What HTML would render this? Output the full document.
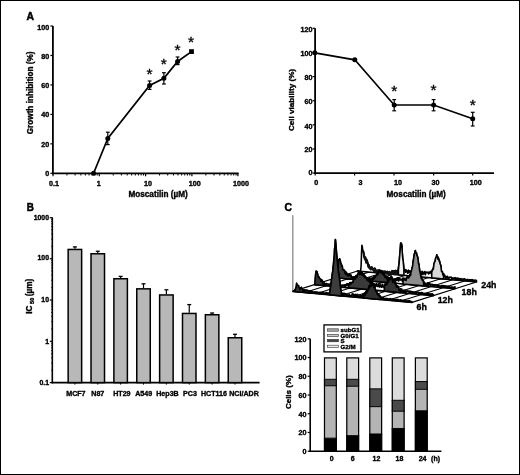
<!DOCTYPE html>
<html><head><meta charset="utf-8"><style>
html,body{margin:0;padding:0;background:#fff;}
svg{display:block;}
</style></head><body>
<svg width="520" height="475" viewBox="0 0 520 475" font-family="Liberation Sans, Arial, sans-serif" font-weight="bold">
<rect x="0" y="0" width="520" height="475" fill="#fff"/>
<text transform="translate(26.6,20.0) scale(1.0,1)" font-size="10.4" stroke="#000" stroke-width="0.5">A</text>
<line x1="52.90" y1="26.00" x2="52.90" y2="174.20" stroke="#000" stroke-width="1.8"/>
<line x1="52.00" y1="173.30" x2="238.60" y2="173.30" stroke="#000" stroke-width="1.8"/>
<line x1="50.40" y1="173.30" x2="52.90" y2="173.30" stroke="#000" stroke-width="1.2"/>
<text x="49.30" y="176.00" font-size="7.2" text-anchor="end" stroke="#000" stroke-width="0.35" >0</text>
<line x1="50.40" y1="143.84" x2="52.90" y2="143.84" stroke="#000" stroke-width="1.2"/>
<text x="49.30" y="146.74" font-size="7.2" text-anchor="end" stroke="#000" stroke-width="0.35" >20</text>
<line x1="50.40" y1="114.38" x2="52.90" y2="114.38" stroke="#000" stroke-width="1.2"/>
<text x="49.30" y="117.48" font-size="7.2" text-anchor="end" stroke="#000" stroke-width="0.35" >40</text>
<line x1="50.40" y1="84.92" x2="52.90" y2="84.92" stroke="#000" stroke-width="1.2"/>
<text x="49.30" y="88.22" font-size="7.2" text-anchor="end" stroke="#000" stroke-width="0.35" >60</text>
<line x1="50.40" y1="55.46" x2="52.90" y2="55.46" stroke="#000" stroke-width="1.2"/>
<text x="49.30" y="58.96" font-size="7.2" text-anchor="end" stroke="#000" stroke-width="0.35" >80</text>
<line x1="50.40" y1="26.00" x2="52.90" y2="26.00" stroke="#000" stroke-width="1.2"/>
<text x="49.30" y="29.70" font-size="7.2" text-anchor="end" stroke="#000" stroke-width="0.35" >100</text>
<line x1="53.00" y1="173.30" x2="53.00" y2="176.30" stroke="#000" stroke-width="1.2"/>
<line x1="66.94" y1="173.30" x2="66.94" y2="175.50" stroke="#000" stroke-width="1.0"/>
<line x1="75.09" y1="173.30" x2="75.09" y2="175.50" stroke="#000" stroke-width="1.0"/>
<line x1="80.88" y1="173.30" x2="80.88" y2="175.50" stroke="#000" stroke-width="1.0"/>
<line x1="85.36" y1="173.30" x2="85.36" y2="175.50" stroke="#000" stroke-width="1.0"/>
<line x1="89.03" y1="173.30" x2="89.03" y2="175.50" stroke="#000" stroke-width="1.0"/>
<line x1="92.13" y1="173.30" x2="92.13" y2="175.50" stroke="#000" stroke-width="1.0"/>
<line x1="94.81" y1="173.30" x2="94.81" y2="175.50" stroke="#000" stroke-width="1.0"/>
<line x1="97.18" y1="173.30" x2="97.18" y2="175.50" stroke="#000" stroke-width="1.0"/>
<line x1="99.30" y1="173.30" x2="99.30" y2="176.30" stroke="#000" stroke-width="1.2"/>
<line x1="113.24" y1="173.30" x2="113.24" y2="175.50" stroke="#000" stroke-width="1.0"/>
<line x1="121.39" y1="173.30" x2="121.39" y2="175.50" stroke="#000" stroke-width="1.0"/>
<line x1="127.18" y1="173.30" x2="127.18" y2="175.50" stroke="#000" stroke-width="1.0"/>
<line x1="131.66" y1="173.30" x2="131.66" y2="175.50" stroke="#000" stroke-width="1.0"/>
<line x1="135.33" y1="173.30" x2="135.33" y2="175.50" stroke="#000" stroke-width="1.0"/>
<line x1="138.43" y1="173.30" x2="138.43" y2="175.50" stroke="#000" stroke-width="1.0"/>
<line x1="141.11" y1="173.30" x2="141.11" y2="175.50" stroke="#000" stroke-width="1.0"/>
<line x1="143.48" y1="173.30" x2="143.48" y2="175.50" stroke="#000" stroke-width="1.0"/>
<line x1="145.60" y1="173.30" x2="145.60" y2="176.30" stroke="#000" stroke-width="1.2"/>
<line x1="159.54" y1="173.30" x2="159.54" y2="175.50" stroke="#000" stroke-width="1.0"/>
<line x1="167.69" y1="173.30" x2="167.69" y2="175.50" stroke="#000" stroke-width="1.0"/>
<line x1="173.48" y1="173.30" x2="173.48" y2="175.50" stroke="#000" stroke-width="1.0"/>
<line x1="177.96" y1="173.30" x2="177.96" y2="175.50" stroke="#000" stroke-width="1.0"/>
<line x1="181.63" y1="173.30" x2="181.63" y2="175.50" stroke="#000" stroke-width="1.0"/>
<line x1="184.73" y1="173.30" x2="184.73" y2="175.50" stroke="#000" stroke-width="1.0"/>
<line x1="187.41" y1="173.30" x2="187.41" y2="175.50" stroke="#000" stroke-width="1.0"/>
<line x1="189.78" y1="173.30" x2="189.78" y2="175.50" stroke="#000" stroke-width="1.0"/>
<line x1="191.90" y1="173.30" x2="191.90" y2="176.30" stroke="#000" stroke-width="1.2"/>
<line x1="205.84" y1="173.30" x2="205.84" y2="175.50" stroke="#000" stroke-width="1.0"/>
<line x1="213.99" y1="173.30" x2="213.99" y2="175.50" stroke="#000" stroke-width="1.0"/>
<line x1="219.78" y1="173.30" x2="219.78" y2="175.50" stroke="#000" stroke-width="1.0"/>
<line x1="224.26" y1="173.30" x2="224.26" y2="175.50" stroke="#000" stroke-width="1.0"/>
<line x1="227.93" y1="173.30" x2="227.93" y2="175.50" stroke="#000" stroke-width="1.0"/>
<line x1="231.03" y1="173.30" x2="231.03" y2="175.50" stroke="#000" stroke-width="1.0"/>
<line x1="233.71" y1="173.30" x2="233.71" y2="175.50" stroke="#000" stroke-width="1.0"/>
<line x1="236.08" y1="173.30" x2="236.08" y2="175.50" stroke="#000" stroke-width="1.0"/>
<line x1="237.90" y1="173.30" x2="237.90" y2="176.30" stroke="#000" stroke-width="1.2"/>
<text x="54.00" y="185.60" font-size="7.2" text-anchor="middle" stroke="#000" stroke-width="0.35" >0.1</text>
<text x="98.80" y="185.60" font-size="7.2" text-anchor="middle" stroke="#000" stroke-width="0.35" >1</text>
<text x="148.00" y="185.60" font-size="7.2" text-anchor="middle" stroke="#000" stroke-width="0.35" >10</text>
<text x="194.70" y="185.60" font-size="7.2" text-anchor="middle" stroke="#000" stroke-width="0.35" >100</text>
<text x="241.00" y="185.60" font-size="7.2" text-anchor="middle" stroke="#000" stroke-width="0.35" >1000</text>
<text x="158.10" y="197.00" font-size="8.2" text-anchor="middle" stroke="#000" stroke-width="0.35" >Moscatilin (µM)</text>
<text x="0.00" y="0.00" font-size="8.2" text-anchor="middle" stroke="#000" stroke-width="0.35" transform="translate(32.6,92.9) rotate(-90)">Growth inhibition (%)</text>
<polyline points="93.6,173.2 107.8,138.5 149.6,85.4 163.9,78.2 177.6,61.5 191.5,51.6" fill="none" stroke="#000" stroke-width="1.7"/>
<circle cx="93.6" cy="173.2" r="2.5" fill="#000"/>
<circle cx="107.8" cy="138.5" r="2.5" fill="#000"/>
<line x1="107.80" y1="132.20" x2="107.80" y2="144.60" stroke="#000" stroke-width="1.2"/>
<line x1="105.90" y1="132.20" x2="109.70" y2="132.20" stroke="#000" stroke-width="1.2"/>
<line x1="105.90" y1="144.60" x2="109.70" y2="144.60" stroke="#000" stroke-width="1.2"/>
<circle cx="149.6" cy="85.4" r="2.5" fill="#000"/>
<line x1="149.60" y1="81.00" x2="149.60" y2="89.40" stroke="#000" stroke-width="1.2"/>
<line x1="147.70" y1="81.00" x2="151.50" y2="81.00" stroke="#000" stroke-width="1.2"/>
<line x1="147.70" y1="89.40" x2="151.50" y2="89.40" stroke="#000" stroke-width="1.2"/>
<circle cx="163.9" cy="78.2" r="2.5" fill="#000"/>
<line x1="163.90" y1="72.70" x2="163.90" y2="84.00" stroke="#000" stroke-width="1.2"/>
<line x1="162.00" y1="72.70" x2="165.80" y2="72.70" stroke="#000" stroke-width="1.2"/>
<line x1="162.00" y1="84.00" x2="165.80" y2="84.00" stroke="#000" stroke-width="1.2"/>
<circle cx="177.6" cy="61.5" r="2.5" fill="#000"/>
<line x1="177.60" y1="57.00" x2="177.60" y2="64.60" stroke="#000" stroke-width="1.2"/>
<line x1="175.70" y1="57.00" x2="179.50" y2="57.00" stroke="#000" stroke-width="1.2"/>
<line x1="175.70" y1="64.60" x2="179.50" y2="64.60" stroke="#000" stroke-width="1.2"/>
<rect x="189.1" y="49.2" width="4.8" height="4.8" fill="#000"/>
<text x="149.50" y="78.50" font-size="15.5" font-weight="normal" text-anchor="middle" stroke="#000" stroke-width="0.35">*</text>
<text x="163.70" y="68.70" font-size="15.5" font-weight="normal" text-anchor="middle" stroke="#000" stroke-width="0.35">*</text>
<text x="177.50" y="54.50" font-size="15.5" font-weight="normal" text-anchor="middle" stroke="#000" stroke-width="0.35">*</text>
<text x="191.10" y="46.90" font-size="15.5" font-weight="normal" text-anchor="middle" stroke="#000" stroke-width="0.35">*</text>
<line x1="315.10" y1="28.30" x2="315.10" y2="174.00" stroke="#000" stroke-width="1.8"/>
<line x1="314.20" y1="173.10" x2="494.00" y2="173.10" stroke="#000" stroke-width="1.8"/>
<line x1="312.60" y1="173.10" x2="315.10" y2="173.10" stroke="#000" stroke-width="1.2"/>
<text x="312.60" y="175.20" font-size="7.2" text-anchor="end" stroke="#000" stroke-width="0.35" >0</text>
<line x1="312.60" y1="148.97" x2="315.10" y2="148.97" stroke="#000" stroke-width="1.2"/>
<text x="312.60" y="152.00" font-size="7.2" text-anchor="end" stroke="#000" stroke-width="0.35" >20</text>
<line x1="312.60" y1="124.83" x2="315.10" y2="124.83" stroke="#000" stroke-width="1.2"/>
<text x="312.60" y="128.50" font-size="7.2" text-anchor="end" stroke="#000" stroke-width="0.35" >40</text>
<line x1="312.60" y1="100.70" x2="315.10" y2="100.70" stroke="#000" stroke-width="1.2"/>
<text x="312.60" y="104.20" font-size="7.2" text-anchor="end" stroke="#000" stroke-width="0.35" >60</text>
<line x1="312.60" y1="76.57" x2="315.10" y2="76.57" stroke="#000" stroke-width="1.2"/>
<text x="312.60" y="79.80" font-size="7.2" text-anchor="end" stroke="#000" stroke-width="0.35" >80</text>
<line x1="312.60" y1="52.43" x2="315.10" y2="52.43" stroke="#000" stroke-width="1.2"/>
<text x="312.60" y="55.60" font-size="7.2" text-anchor="end" stroke="#000" stroke-width="0.35" >100</text>
<line x1="312.60" y1="28.30" x2="315.10" y2="28.30" stroke="#000" stroke-width="1.2"/>
<text x="312.60" y="31.70" font-size="7.2" text-anchor="end" stroke="#000" stroke-width="0.35" >120</text>
<line x1="315.20" y1="173.10" x2="315.20" y2="175.60" stroke="#000" stroke-width="1.2"/>
<line x1="354.60" y1="173.10" x2="354.60" y2="175.60" stroke="#000" stroke-width="1.2"/>
<line x1="394.00" y1="173.10" x2="394.00" y2="175.60" stroke="#000" stroke-width="1.2"/>
<line x1="433.60" y1="173.10" x2="433.60" y2="175.60" stroke="#000" stroke-width="1.2"/>
<line x1="472.70" y1="173.10" x2="472.70" y2="175.60" stroke="#000" stroke-width="1.2"/>
<text x="316.20" y="185.20" font-size="7.2" text-anchor="middle" stroke="#000" stroke-width="0.35" >0</text>
<text x="360.40" y="185.20" font-size="7.2" text-anchor="middle" stroke="#000" stroke-width="0.35" >3</text>
<text x="397.90" y="185.20" font-size="7.2" text-anchor="middle" stroke="#000" stroke-width="0.35" >10</text>
<text x="435.50" y="185.20" font-size="7.2" text-anchor="middle" stroke="#000" stroke-width="0.35" >30</text>
<text x="475.70" y="185.20" font-size="7.2" text-anchor="middle" stroke="#000" stroke-width="0.35" >100</text>
<text x="416.20" y="197.00" font-size="8.2" text-anchor="middle" stroke="#000" stroke-width="0.35" >Moscatilin (µM)</text>
<text x="0.00" y="0.00" font-size="8.1" text-anchor="middle" stroke="#000" stroke-width="0.35" transform="translate(294.0,100) rotate(-90)">Cell viability (%)</text>
<polyline points="314.8,52.8 354.8,59.8 394.2,105 433.6,105 472.7,118.7" fill="none" stroke="#000" stroke-width="1.7"/>
<circle cx="314.8" cy="52.8" r="2.5" fill="#000"/>
<circle cx="354.8" cy="59.8" r="2.5" fill="#000"/>
<circle cx="394.2" cy="105" r="2.5" fill="#000"/>
<line x1="394.20" y1="99.60" x2="394.20" y2="110.80" stroke="#000" stroke-width="1.2"/>
<line x1="392.30" y1="99.60" x2="396.10" y2="99.60" stroke="#000" stroke-width="1.2"/>
<line x1="392.30" y1="110.80" x2="396.10" y2="110.80" stroke="#000" stroke-width="1.2"/>
<circle cx="433.6" cy="105" r="2.5" fill="#000"/>
<line x1="433.60" y1="99.60" x2="433.60" y2="110.80" stroke="#000" stroke-width="1.2"/>
<line x1="431.70" y1="99.60" x2="435.50" y2="99.60" stroke="#000" stroke-width="1.2"/>
<line x1="431.70" y1="110.80" x2="435.50" y2="110.80" stroke="#000" stroke-width="1.2"/>
<circle cx="472.7" cy="118.7" r="2.5" fill="#000"/>
<line x1="472.70" y1="112.30" x2="472.70" y2="126.00" stroke="#000" stroke-width="1.2"/>
<line x1="470.80" y1="112.30" x2="474.60" y2="112.30" stroke="#000" stroke-width="1.2"/>
<line x1="470.80" y1="126.00" x2="474.60" y2="126.00" stroke="#000" stroke-width="1.2"/>
<text x="394.20" y="96.40" font-size="15.5" font-weight="normal" text-anchor="middle" stroke="#000" stroke-width="0.35">*</text>
<text x="433.50" y="95.30" font-size="15.5" font-weight="normal" text-anchor="middle" stroke="#000" stroke-width="0.35">*</text>
<text x="472.70" y="109.50" font-size="15.5" font-weight="normal" text-anchor="middle" stroke="#000" stroke-width="0.35">*</text>
<text transform="translate(26.8,210.9) scale(0.95,1)" font-size="10.4" stroke="#000" stroke-width="0.5">B</text>
<line x1="52.30" y1="217.40" x2="52.30" y2="383.35" stroke="#000" stroke-width="1.6"/>
<line x1="51.55" y1="382.60" x2="259.60" y2="382.60" stroke="#000" stroke-width="1.6"/>
<line x1="49.80" y1="382.60" x2="52.30" y2="382.60" stroke="#000" stroke-width="1.2"/>
<line x1="51.00" y1="370.17" x2="52.30" y2="370.17" stroke="#000" stroke-width="0.7"/>
<line x1="51.00" y1="362.89" x2="52.30" y2="362.89" stroke="#000" stroke-width="0.7"/>
<line x1="51.00" y1="357.73" x2="52.30" y2="357.73" stroke="#000" stroke-width="0.7"/>
<line x1="51.00" y1="353.73" x2="52.30" y2="353.73" stroke="#000" stroke-width="0.7"/>
<line x1="51.00" y1="350.46" x2="52.30" y2="350.46" stroke="#000" stroke-width="0.7"/>
<line x1="51.00" y1="347.70" x2="52.30" y2="347.70" stroke="#000" stroke-width="0.7"/>
<line x1="51.00" y1="345.30" x2="52.30" y2="345.30" stroke="#000" stroke-width="0.7"/>
<line x1="51.00" y1="343.19" x2="52.30" y2="343.19" stroke="#000" stroke-width="0.7"/>
<line x1="49.80" y1="341.30" x2="52.30" y2="341.30" stroke="#000" stroke-width="1.2"/>
<line x1="51.00" y1="328.87" x2="52.30" y2="328.87" stroke="#000" stroke-width="0.7"/>
<line x1="51.00" y1="321.59" x2="52.30" y2="321.59" stroke="#000" stroke-width="0.7"/>
<line x1="51.00" y1="316.43" x2="52.30" y2="316.43" stroke="#000" stroke-width="0.7"/>
<line x1="51.00" y1="312.43" x2="52.30" y2="312.43" stroke="#000" stroke-width="0.7"/>
<line x1="51.00" y1="309.16" x2="52.30" y2="309.16" stroke="#000" stroke-width="0.7"/>
<line x1="51.00" y1="306.40" x2="52.30" y2="306.40" stroke="#000" stroke-width="0.7"/>
<line x1="51.00" y1="304.00" x2="52.30" y2="304.00" stroke="#000" stroke-width="0.7"/>
<line x1="51.00" y1="301.89" x2="52.30" y2="301.89" stroke="#000" stroke-width="0.7"/>
<line x1="49.80" y1="300.00" x2="52.30" y2="300.00" stroke="#000" stroke-width="1.2"/>
<line x1="51.00" y1="287.57" x2="52.30" y2="287.57" stroke="#000" stroke-width="0.7"/>
<line x1="51.00" y1="280.29" x2="52.30" y2="280.29" stroke="#000" stroke-width="0.7"/>
<line x1="51.00" y1="275.13" x2="52.30" y2="275.13" stroke="#000" stroke-width="0.7"/>
<line x1="51.00" y1="271.13" x2="52.30" y2="271.13" stroke="#000" stroke-width="0.7"/>
<line x1="51.00" y1="267.86" x2="52.30" y2="267.86" stroke="#000" stroke-width="0.7"/>
<line x1="51.00" y1="265.10" x2="52.30" y2="265.10" stroke="#000" stroke-width="0.7"/>
<line x1="51.00" y1="262.70" x2="52.30" y2="262.70" stroke="#000" stroke-width="0.7"/>
<line x1="51.00" y1="260.59" x2="52.30" y2="260.59" stroke="#000" stroke-width="0.7"/>
<line x1="49.80" y1="258.70" x2="52.30" y2="258.70" stroke="#000" stroke-width="1.2"/>
<line x1="51.00" y1="246.27" x2="52.30" y2="246.27" stroke="#000" stroke-width="0.7"/>
<line x1="51.00" y1="238.99" x2="52.30" y2="238.99" stroke="#000" stroke-width="0.7"/>
<line x1="51.00" y1="233.83" x2="52.30" y2="233.83" stroke="#000" stroke-width="0.7"/>
<line x1="51.00" y1="229.83" x2="52.30" y2="229.83" stroke="#000" stroke-width="0.7"/>
<line x1="51.00" y1="226.56" x2="52.30" y2="226.56" stroke="#000" stroke-width="0.7"/>
<line x1="51.00" y1="223.80" x2="52.30" y2="223.80" stroke="#000" stroke-width="0.7"/>
<line x1="51.00" y1="221.40" x2="52.30" y2="221.40" stroke="#000" stroke-width="0.7"/>
<line x1="51.00" y1="219.29" x2="52.30" y2="219.29" stroke="#000" stroke-width="0.7"/>
<line x1="49.80" y1="217.70" x2="52.30" y2="217.70" stroke="#000" stroke-width="1.2"/>
<text x="49.00" y="385.10" font-size="6.9" text-anchor="end" stroke="#000" stroke-width="0.35" >0.1</text>
<text x="49.00" y="343.70" font-size="6.9" text-anchor="end" stroke="#000" stroke-width="0.35" >1</text>
<text x="49.00" y="302.00" font-size="6.9" text-anchor="end" stroke="#000" stroke-width="0.35" >10</text>
<text x="49.00" y="260.00" font-size="6.9" text-anchor="end" stroke="#000" stroke-width="0.35" >100</text>
<text x="49.00" y="219.90" font-size="6.9" text-anchor="end" stroke="#000" stroke-width="0.35" >1000</text>
<line x1="74.90" y1="246.90" x2="74.90" y2="248.70" stroke="#000" stroke-width="1.2"/>
<line x1="72.90" y1="246.90" x2="76.90" y2="246.90" stroke="#000" stroke-width="1.3"/>
<rect x="68.15" y="249.45" width="13.50" height="133.15" fill="#b8b8b8" stroke="#000" stroke-width="1.5"/>
<line x1="74.90" y1="382.60" x2="74.90" y2="384.60" stroke="#000" stroke-width="1.0"/>
<line x1="97.77" y1="251.25" x2="97.77" y2="253.00" stroke="#000" stroke-width="1.2"/>
<line x1="95.77" y1="251.25" x2="99.77" y2="251.25" stroke="#000" stroke-width="1.3"/>
<rect x="91.02" y="253.75" width="13.50" height="128.85" fill="#b8b8b8" stroke="#000" stroke-width="1.5"/>
<line x1="97.77" y1="382.60" x2="97.77" y2="384.60" stroke="#000" stroke-width="1.0"/>
<line x1="120.64" y1="276.40" x2="120.64" y2="278.00" stroke="#000" stroke-width="1.2"/>
<line x1="118.64" y1="276.40" x2="122.64" y2="276.40" stroke="#000" stroke-width="1.3"/>
<rect x="113.89" y="278.75" width="13.50" height="103.85" fill="#b8b8b8" stroke="#000" stroke-width="1.5"/>
<line x1="120.64" y1="382.60" x2="120.64" y2="384.60" stroke="#000" stroke-width="1.0"/>
<line x1="143.51" y1="283.80" x2="143.51" y2="288.10" stroke="#000" stroke-width="1.2"/>
<line x1="141.51" y1="283.80" x2="145.51" y2="283.80" stroke="#000" stroke-width="1.3"/>
<rect x="136.76" y="288.85" width="13.50" height="93.75" fill="#b8b8b8" stroke="#000" stroke-width="1.5"/>
<line x1="143.51" y1="382.60" x2="143.51" y2="384.60" stroke="#000" stroke-width="1.0"/>
<line x1="166.38" y1="289.80" x2="166.38" y2="294.20" stroke="#000" stroke-width="1.2"/>
<line x1="164.38" y1="289.80" x2="168.38" y2="289.80" stroke="#000" stroke-width="1.3"/>
<rect x="159.63" y="294.95" width="13.50" height="87.65" fill="#b8b8b8" stroke="#000" stroke-width="1.5"/>
<line x1="166.38" y1="382.60" x2="166.38" y2="384.60" stroke="#000" stroke-width="1.0"/>
<line x1="189.25" y1="304.60" x2="189.25" y2="312.70" stroke="#000" stroke-width="1.2"/>
<line x1="187.25" y1="304.60" x2="191.25" y2="304.60" stroke="#000" stroke-width="1.3"/>
<rect x="182.50" y="313.45" width="13.50" height="69.15" fill="#b8b8b8" stroke="#000" stroke-width="1.5"/>
<line x1="189.25" y1="382.60" x2="189.25" y2="384.60" stroke="#000" stroke-width="1.0"/>
<line x1="212.12" y1="313.00" x2="212.12" y2="314.00" stroke="#000" stroke-width="1.2"/>
<line x1="210.12" y1="313.00" x2="214.12" y2="313.00" stroke="#000" stroke-width="1.3"/>
<rect x="205.37" y="314.75" width="13.50" height="67.85" fill="#b8b8b8" stroke="#000" stroke-width="1.5"/>
<line x1="212.12" y1="382.60" x2="212.12" y2="384.60" stroke="#000" stroke-width="1.0"/>
<line x1="234.99" y1="334.30" x2="234.99" y2="337.00" stroke="#000" stroke-width="1.2"/>
<line x1="232.99" y1="334.30" x2="236.99" y2="334.30" stroke="#000" stroke-width="1.3"/>
<rect x="228.24" y="337.75" width="13.50" height="44.85" fill="#b8b8b8" stroke="#000" stroke-width="1.5"/>
<line x1="234.99" y1="382.60" x2="234.99" y2="384.60" stroke="#000" stroke-width="1.0"/>
<text x="75.90" y="396.00" font-size="7.1" text-anchor="middle" stroke="#000" stroke-width="0.35" >MCF7</text>
<text x="97.80" y="396.00" font-size="7.1" text-anchor="middle" stroke="#000" stroke-width="0.35" >N87</text>
<text x="121.90" y="396.00" font-size="7.1" text-anchor="middle" stroke="#000" stroke-width="0.35" >HT29</text>
<text x="143.70" y="396.00" font-size="7.1" text-anchor="middle" stroke="#000" stroke-width="0.35" >A549</text>
<text x="167.50" y="396.00" font-size="7.1" text-anchor="middle" stroke="#000" stroke-width="0.35" >Hep3B</text>
<text x="190.00" y="396.00" font-size="7.1" text-anchor="middle" stroke="#000" stroke-width="0.35" >PC3</text>
<text x="214.00" y="396.00" font-size="7.1" text-anchor="middle" stroke="#000" stroke-width="0.35" >HCT116</text>
<text x="244.00" y="396.00" font-size="7.1" text-anchor="middle" stroke="#000" stroke-width="0.35" >NCI/ADR</text>
<text transform="translate(31.8,296.2) rotate(-90)" font-size="8.2" text-anchor="middle" stroke="#000" stroke-width="0.35">IC<tspan font-size="5.6" dy="1.9"> 50 </tspan><tspan dy="-1.9">(µm)</tspan></text>
<text transform="translate(284.4,211.0) scale(1.0,1)" font-size="10.4" stroke="#000" stroke-width="0.5">C</text>
<line x1="292.80" y1="215.20" x2="292.80" y2="291.00" stroke="#8a8a8a" stroke-width="1.3"/>
<polygon points="293.0,291.4 412.0,302.4 476.5,282.0 357.5,271.0" fill="#fff" stroke="#000" stroke-width="1.2" stroke-linejoin="round" />
<polyline points="304.9,292.5 369.4,272.1" fill="none" stroke="#000" stroke-width="1.1" stroke-linejoin="round"/>
<polyline points="316.8,293.6 381.3,273.2" fill="none" stroke="#000" stroke-width="1.1" stroke-linejoin="round"/>
<polyline points="328.7,294.7 393.2,274.3" fill="none" stroke="#000" stroke-width="1.1" stroke-linejoin="round"/>
<polyline points="340.6,295.8 405.1,275.4" fill="none" stroke="#000" stroke-width="1.1" stroke-linejoin="round"/>
<polyline points="352.5,296.9 417.0,276.5" fill="none" stroke="#000" stroke-width="1.1" stroke-linejoin="round"/>
<polyline points="364.4,298.0 428.9,277.6" fill="none" stroke="#000" stroke-width="1.1" stroke-linejoin="round"/>
<polyline points="376.3,299.1 440.8,278.7" fill="none" stroke="#000" stroke-width="1.1" stroke-linejoin="round"/>
<polyline points="388.2,300.2 452.7,279.8" fill="none" stroke="#000" stroke-width="1.1" stroke-linejoin="round"/>
<polyline points="400.1,301.3 464.6,280.9" fill="none" stroke="#000" stroke-width="1.1" stroke-linejoin="round"/>
<polyline points="314.5,284.6 433.5,295.6" fill="none" stroke="#000" stroke-width="1.1" stroke-linejoin="round"/>
<polyline points="336.0,277.8 455.0,288.8" fill="none" stroke="#000" stroke-width="1.1" stroke-linejoin="round"/>
<polygon points="357.5,271.0 357.5,270.9 357.9,270.9 358.3,271.0 358.7,271.0 359.1,271.0 359.5,271.1 359.9,271.1 360.3,270.6 360.7,270.5 361.1,266.0 361.5,254.4 361.9,245.2 362.3,246.8 362.7,250.0 363.1,250.5 363.4,251.6 363.8,252.5 364.2,256.1 364.6,256.7 365.0,258.5 365.4,257.1 365.8,258.5 366.2,261.6 366.6,259.3 367.0,260.1 367.4,261.9 367.8,262.8 368.2,265.0 368.6,266.0 369.0,264.8 369.4,267.0 369.8,267.0 370.2,267.3 370.6,268.4 371.0,267.3 371.4,267.8 371.8,266.7 372.2,268.1 372.6,268.0 373.0,268.8 373.4,268.5 373.8,269.4 374.2,270.3 374.6,268.0 375.0,268.2 375.4,268.9 375.7,269.6 376.1,271.1 376.5,271.5 376.9,271.4 377.3,272.3 377.7,270.1 378.1,271.4 378.5,270.0 378.9,271.7 379.3,269.8 379.7,270.3 380.1,273.1 380.5,272.6 380.9,270.6 381.3,271.2 381.7,270.6 382.1,271.4 382.5,271.8 382.9,271.2 383.3,271.1 383.7,271.7 384.1,272.0 384.5,271.7 384.9,271.0 385.3,271.3 385.7,272.1 386.1,271.9 386.5,272.1 386.9,272.2 387.2,271.3 387.6,272.1 388.0,272.1 388.4,272.5 388.8,273.4 389.2,271.5 389.6,273.6 390.0,271.8 390.4,273.6 390.8,272.6 391.2,273.3 391.6,273.0 392.0,270.6 392.4,271.2 392.8,272.9 393.2,270.9 393.6,273.1 394.0,272.5 394.4,270.9 394.8,271.6 395.2,273.4 395.6,270.3 396.0,272.9 396.4,272.7 396.8,270.8 397.2,272.1 397.6,271.8 398.0,271.7 398.4,270.2 398.8,266.2 399.1,263.8 399.5,258.1 399.9,253.7 400.3,248.5 400.7,243.1 401.1,243.1 401.5,243.8 401.9,246.1 402.3,253.2 402.7,258.4 403.1,260.5 403.5,264.5 403.9,269.0 404.3,270.8 404.7,269.8 405.1,269.6 405.5,272.3 405.9,269.9 406.3,270.2 406.7,271.2 407.1,271.8 407.5,273.0 407.9,273.2 408.3,270.1 408.7,272.6 409.1,271.1 409.5,272.6 409.9,270.7 410.3,271.5 410.7,272.6 411.1,273.1 411.4,271.2 411.8,273.5 412.2,273.0 412.6,271.9 413.0,270.9 413.4,271.8 413.8,273.0 414.2,270.8 414.6,273.3 415.0,274.0 415.4,273.1 415.8,272.6 416.2,273.9 416.6,273.6 417.0,272.9 417.4,272.3 417.8,273.8 418.2,273.1 418.6,271.3 419.0,271.0 419.4,272.2 419.8,272.1 420.2,272.5 420.6,274.1 421.0,274.4 421.4,274.5 421.8,271.5 422.2,272.3 422.6,271.4 422.9,274.7 423.3,272.6 423.7,273.2 424.1,272.4 424.5,273.8 424.9,271.5 425.3,274.7 425.7,273.1 426.1,272.5 426.5,272.0 426.9,272.6 427.3,272.7 427.7,272.4 428.1,272.0 428.5,273.9 428.9,272.8 429.3,272.0 429.7,272.0 430.1,273.4 430.5,271.9 430.9,271.3 431.3,271.9 431.7,271.2 432.1,271.3 432.5,269.8 432.9,268.7 433.3,269.4 433.7,266.2 434.1,263.5 434.5,262.4 434.9,261.4 435.2,261.0 435.6,258.4 436.0,257.6 436.4,257.0 436.8,254.8 437.2,256.9 437.6,256.6 438.0,259.3 438.4,258.0 438.8,259.3 439.2,261.4 439.6,261.2 440.0,263.5 440.4,264.7 440.8,265.4 441.2,269.2 441.6,271.5 442.0,271.9 442.4,271.9 442.8,274.5 443.2,275.5 443.6,273.8 444.0,275.2 444.4,276.4 444.8,275.3 445.2,277.5 445.6,276.6 446.0,278.4 446.4,277.7 446.8,276.6 447.1,276.3 447.5,276.5 447.9,278.2 448.3,277.2 448.7,277.6 449.1,277.9 449.5,277.5 449.9,277.1 450.3,277.2 450.7,277.4 451.1,277.1 451.5,278.0 451.9,278.2 452.3,277.9 452.7,278.2 453.1,278.3 453.5,278.1 453.9,277.9 454.3,278.1 454.7,278.4 455.1,277.8 455.5,277.7 455.9,278.4 456.3,278.9 456.7,279.0 457.1,278.0 457.5,279.0 457.9,278.3 458.3,278.5 458.6,278.9 459.0,278.3 459.4,279.3 459.8,279.2 460.2,278.9 460.6,279.5 461.0,278.5 461.4,279.3 461.8,279.5 462.2,279.6 462.6,279.0 463.0,279.2 463.4,279.1 463.8,279.1 464.2,278.9 464.6,278.8 465.0,279.2 465.4,279.8 465.8,279.5 466.2,279.9 466.6,280.2 467.0,279.7 467.4,279.4 467.8,280.1 468.2,280.1 468.6,280.0 469.0,279.6 469.4,279.9 469.8,279.8 470.2,279.7 470.6,280.2 470.9,279.8 471.3,279.7 471.7,280.7 472.1,279.7 472.5,280.0 472.9,280.8 473.3,280.4 473.7,280.3 474.1,280.0 474.5,280.7 474.9,280.5 475.3,280.1 475.7,280.3 476.1,280.2 476.5,280.8 476.5,282.0" fill="#fff" stroke="#000" stroke-width="1.6" stroke-linejoin="round" />
<polyline points="363.1,251.5 363.4,252.6 363.8,253.5 364.2,257.1 364.6,257.7 365.0,259.5 365.4,258.1 365.8,259.5 366.2,262.6 366.6,260.3 367.0,261.1 367.4,262.9 367.8,263.8 368.2,266.0 368.6,267.0 369.0,265.8 369.4,268.0 369.8,268.0 370.2,268.3 370.6,269.4 371.0,268.3 371.4,268.8 371.8,267.7 372.2,269.1 372.6,269.0 373.0,269.8 373.4,269.5 373.8,270.4 374.2,271.3 374.6,269.0 375.0,269.2 375.4,269.9 375.7,270.6 376.1,272.1 376.5,272.5 376.9,272.4 377.3,273.3 377.7,271.1 378.1,272.4 378.5,271.0 378.9,272.7 379.3,270.8 379.7,271.3 380.1,274.1 380.5,273.6 380.9,271.6 381.3,272.2 381.7,271.6 382.1,272.4 382.5,272.8 382.9,272.2 383.3,272.1 383.7,272.7 384.1,273.0 384.5,272.7 384.9,272.0 385.3,272.3 385.7,273.1 386.1,272.9 386.5,273.1 386.9,273.2 387.2,272.3 387.6,273.1 388.0,273.1 388.4,273.5 388.8,274.4 389.2,272.5 389.6,274.6 390.0,272.8 390.4,274.6 390.8,273.6 391.2,274.3 391.6,274.0 392.0,271.6 392.4,272.2 392.8,273.9 393.2,271.9 393.6,274.1 394.0,273.5 394.4,271.9 394.8,272.6 395.2,274.4 395.6,271.3 396.0,273.9 396.4,273.7 396.8,271.8 397.2,273.1 397.6,272.8 398.0,272.7 398.4,271.2 398.8,267.2 399.1,264.8" fill="none" stroke="#111" stroke-width="2.2" stroke-linejoin="round"/>
<polygon points="398.4,274.8 398.4,270.2 398.8,266.2 399.1,263.8 399.5,258.1 399.9,253.7 400.3,248.5 400.7,243.1 401.1,243.1 401.5,243.8 401.9,246.1 402.3,253.2 402.7,258.4 403.1,260.5 403.5,264.5 403.9,269.0 403.9,275.3" fill="#f0f0f0" stroke="#000" stroke-width="1.6" stroke-linejoin="round" />
<polygon points="431.7,277.9 431.7,271.2 432.1,271.3 432.5,269.8 432.9,268.7 433.3,269.4 433.7,266.2 434.1,263.5 434.5,262.4 434.9,261.4 435.2,261.0 435.6,258.4 436.0,257.6 436.4,257.0 436.8,254.8 437.2,256.9 437.6,256.6 438.0,259.3 438.4,258.0 438.8,259.3 439.2,261.4 439.6,261.2 440.0,263.5 440.4,264.7 440.8,265.4 441.2,269.2 441.6,271.5 442.0,271.9 442.4,271.9 442.8,274.5 443.2,275.5 443.6,273.8 443.6,279.0" fill="#d8d8d8" stroke="#000" stroke-width="1.6" stroke-linejoin="round" />
<polygon points="336.0,277.8 336.0,277.7 336.4,277.4 336.8,275.8 337.2,275.6 337.6,271.4 338.0,267.9 338.4,264.6 338.8,259.8 339.2,259.7 339.6,258.7 340.0,259.8 340.4,261.0 340.8,263.6 341.2,263.8 341.6,266.4 341.9,265.3 342.3,266.4 342.7,268.9 343.1,270.5 343.5,270.0 343.9,270.2 344.3,270.1 344.7,271.6 345.1,273.7 345.5,271.5 345.9,274.5 346.3,272.4 346.7,274.9 347.1,274.8 347.5,273.6 347.9,276.1 348.3,276.3 348.7,275.4 349.1,274.9 349.5,274.8 349.9,275.5 350.3,274.9 350.7,276.6 351.1,275.2 351.5,278.3 351.9,278.0 352.3,277.2 352.7,278.1 353.1,276.7 353.5,277.2 353.9,277.7 354.2,276.7 354.6,277.8 355.0,277.7 355.4,277.7 355.8,277.2 356.2,277.3 356.6,278.2 357.0,277.5 357.4,277.4 357.8,278.0 358.2,278.0 358.6,278.5 359.0,278.1 359.4,278.2 359.8,278.1 360.2,278.9 360.6,277.8 361.0,278.4 361.4,278.5 361.8,278.1 362.2,278.4 362.6,278.5 363.0,278.3 363.4,279.1 363.8,278.5 364.2,278.7 364.6,278.0 365.0,278.1 365.4,278.9 365.8,278.6 366.1,279.1 366.5,278.7 366.9,278.2 367.3,278.1 367.7,279.3 368.1,279.8 368.5,280.2 368.9,278.7 369.3,277.7 369.7,280.3 370.1,278.1 370.5,280.6 370.9,279.9 371.3,279.7 371.7,278.0 372.1,279.1 372.5,278.9 372.9,277.8 373.3,279.3 373.7,276.9 374.1,278.7 374.5,277.0 374.9,277.5 375.3,277.3 375.7,275.7 376.1,275.6 376.5,275.3 376.9,274.7 377.3,273.9 377.6,274.7 378.0,274.2 378.4,272.3 378.8,272.0 379.2,272.1 379.6,270.8 380.0,271.5 380.4,270.7 380.8,273.0 381.2,271.5 381.6,271.5 382.0,271.5 382.4,273.9 382.8,274.3 383.2,272.7 383.6,275.5 384.0,273.3 384.4,274.1 384.8,277.1 385.2,277.1 385.6,275.8 386.0,277.7 386.4,278.6 386.8,276.4 387.2,278.0 387.6,276.9 388.0,279.4 388.4,278.6 388.8,277.7 389.2,280.1 389.6,279.6 389.9,278.0 390.3,277.3 390.7,277.2 391.1,280.2 391.5,278.9 391.9,278.1 392.3,279.0 392.7,278.4 393.1,280.1 393.5,280.6 393.9,280.5 394.3,280.7 394.7,279.0 395.1,279.2 395.5,279.0 395.9,280.5 396.3,280.4 396.7,280.4 397.1,278.2 397.5,277.8 397.9,278.0 398.3,280.8 398.7,281.0 399.1,278.0 399.5,279.6 399.9,278.6 400.3,280.1 400.7,279.6 401.1,279.5 401.4,279.7 401.8,279.1 402.2,281.1 402.6,278.7 403.0,278.2 403.4,280.4 403.8,279.4 404.2,278.4 404.6,279.5 405.0,280.1 405.4,280.1 405.8,278.8 406.2,280.4 406.6,277.3 407.0,277.5 407.4,277.6 407.8,276.9 408.2,277.5 408.6,278.0 409.0,276.9 409.4,276.8 409.8,274.6 410.2,274.5 410.6,275.4 411.0,272.0 411.4,271.2 411.8,269.4 412.2,267.3 412.6,266.5 413.0,262.5 413.4,260.1 413.7,258.3 414.1,255.6 414.5,253.5 414.9,252.9 415.3,250.5 415.7,252.0 416.1,252.9 416.5,253.0 416.9,255.6 417.3,256.1 417.7,257.2 418.1,259.7 418.5,263.7 418.9,263.9 419.3,267.5 419.7,271.1 420.1,272.3 420.5,274.6 420.9,276.5 421.3,278.5 421.7,277.6 422.1,279.8 422.5,280.4 422.9,280.8 423.3,280.6 423.7,284.3 424.1,282.6 424.5,282.4 424.9,284.3 425.2,284.0 425.6,285.4 426.0,285.0 426.4,284.5 426.8,285.6 427.2,285.2 427.6,283.1 428.0,284.4 428.4,284.6 428.8,283.2 429.2,284.6 429.6,283.2 430.0,284.2 430.4,284.1 430.8,285.1 431.2,284.5 431.6,284.4 432.0,285.3 432.4,284.3 432.8,285.3 433.2,284.9 433.6,285.4 434.0,285.0 434.4,284.9 434.8,285.7 435.2,284.7 435.6,285.3 436.0,285.3 436.4,285.2 436.8,285.5 437.1,285.7 437.5,285.3 437.9,285.5 438.3,285.8 438.7,285.4 439.1,285.9 439.5,286.3 439.9,286.1 440.3,286.4 440.7,286.3 441.1,285.6 441.5,286.1 441.9,285.5 442.3,285.8 442.7,286.7 443.1,285.6 443.5,285.7 443.9,286.8 444.3,285.8 444.7,286.4 445.1,286.4 445.5,285.9 445.9,286.8 446.3,286.5 446.7,286.1 447.1,286.4 447.5,286.7 447.9,286.1 448.3,286.4 448.7,286.7 449.1,287.3 449.4,286.8 449.8,287.0 450.2,287.3 450.6,287.6 451.0,287.0 451.4,287.6 451.8,287.2 452.2,287.0 452.6,287.3 453.0,287.6 453.4,287.3 453.8,287.5 454.2,287.1 454.6,287.4 455.0,286.9 455.0,288.8" fill="#fff" stroke="#000" stroke-width="1.6" stroke-linejoin="round" />
<polygon points="336.0,277.8 336.0,277.7 336.4,277.4 336.8,275.8 337.2,275.6 337.6,271.4 338.0,267.9 338.4,264.6 338.8,259.8 339.2,259.7 339.6,258.7 340.0,259.8 340.4,261.0 340.8,263.6 341.2,263.8 341.6,266.4 341.9,265.3 342.3,266.4 342.7,268.9 343.1,270.5 343.5,270.0 343.9,270.2 344.3,270.1 344.7,271.6 345.1,273.7 345.5,271.5 345.9,274.5 346.3,272.4 346.7,274.9 347.1,274.8 347.5,273.6 347.9,276.1 348.3,276.3 348.7,275.4 349.1,274.9 349.5,274.8 349.9,275.5 350.3,274.9 350.7,276.6 351.1,275.2 351.5,278.3 351.9,278.0 352.3,277.2 352.3,279.3" fill="#3a3a3a" stroke="#000" stroke-width="1.4" stroke-linejoin="round" />
<polygon points="372.5,281.2 372.5,278.9 372.9,277.8 373.3,279.3 373.7,276.9 374.1,278.7 374.5,277.0 374.9,277.5 375.3,277.3 375.7,275.7 376.1,275.6 376.5,275.3 376.9,274.7 377.3,273.9 377.6,274.7 378.0,274.2 378.4,272.3 378.8,272.0 379.2,272.1 379.6,270.8 380.0,271.5 380.4,270.7 380.8,273.0 381.2,271.5 381.6,271.5 382.0,271.5 382.4,273.9 382.8,274.3 383.2,272.7 383.6,275.5 384.0,273.3 384.4,274.1 384.8,277.1 385.2,277.1 385.6,275.8 386.0,277.7 386.4,278.6 386.8,276.4 387.2,278.0 387.6,276.9 387.6,282.6" fill="#3a3a3a" stroke="#000" stroke-width="1.6" stroke-linejoin="round" />
<polygon points="403.0,284.0 403.0,278.2 403.4,280.4 403.8,279.4 404.2,278.4 404.6,279.5 405.0,280.1 405.4,280.1 405.8,278.8 406.2,280.4 406.6,277.3 407.0,277.5 407.4,277.6 407.8,276.9 408.2,277.5 408.6,278.0 409.0,276.9 409.4,276.8 409.8,274.6 410.2,274.5 410.6,275.4 411.0,272.0 411.4,271.2 411.8,269.4 412.2,267.3 412.6,266.5 413.0,262.5 413.4,260.1 413.7,258.3 414.1,255.6 414.5,253.5 414.9,252.9 415.3,250.5 415.7,252.0 416.1,252.9 416.5,253.0 416.9,255.6 417.3,256.1 417.7,257.2 418.1,259.7 418.5,263.7 418.9,263.9 419.3,267.5 419.7,271.1 420.1,272.3 420.5,274.6 420.9,276.5 421.3,278.5 421.7,277.6 422.1,279.8 422.5,280.4 422.9,280.8 423.3,280.6 423.7,284.3 424.1,282.6 424.5,282.4 424.9,284.3 425.2,284.0 425.6,285.4 426.0,285.0 426.4,284.5 426.8,285.6 427.2,285.2 427.6,283.1 428.0,284.4 428.4,284.6 428.8,283.2 428.8,286.4" fill="#8c8c8c" stroke="#000" stroke-width="1.6" stroke-linejoin="round" />
<polygon points="314.5,284.6 314.5,284.5 314.9,283.4 315.3,278.4 315.7,273.4 316.1,271.1 316.5,272.8 316.9,271.4 317.3,272.9 317.7,274.5 318.1,276.3 318.5,277.4 318.9,276.8 319.3,277.9 319.7,278.5 320.1,278.9 320.4,279.0 320.8,281.5 321.2,281.7 321.6,279.6 322.0,280.2 322.4,280.7 322.8,283.9 323.2,284.1 323.6,283.6 324.0,283.3 324.4,282.9 324.8,284.9 325.2,283.6 325.6,285.3 326.0,285.5 326.4,283.6 326.8,283.7 327.2,283.7 327.6,284.1 328.0,284.1 328.4,284.5 328.8,284.5 329.2,284.1 329.6,284.0 330.0,285.0 330.4,285.1 330.8,284.3 331.2,284.6 331.6,284.5 332.0,285.2 332.4,285.0 332.7,285.2 333.1,284.6 333.5,285.2 333.9,284.9 334.3,284.5 334.7,285.3 335.1,285.1 335.5,284.9 335.9,284.7 336.3,285.3 336.7,285.4 337.1,285.8 337.5,284.9 337.9,285.8 338.3,285.8 338.7,285.3 339.1,285.4 339.5,285.2 339.9,285.6 340.3,285.1 340.7,285.9 341.1,285.8 341.5,285.2 341.9,285.9 342.3,285.6 342.7,285.1 343.1,285.2 343.5,285.6 343.9,285.8 344.2,285.5 344.6,285.1 345.0,286.3 345.4,287.1 345.8,285.0 346.2,285.4 346.6,284.1 347.0,284.0 347.4,283.9 347.8,285.4 348.2,284.0 348.6,285.5 349.0,285.3 349.4,284.8 349.8,282.7 350.2,282.6 350.6,284.5 351.0,283.7 351.4,283.4 351.8,283.0 352.2,282.4 352.6,282.0 353.0,282.2 353.4,280.4 353.8,279.1 354.2,279.5 354.6,277.9 355.0,278.3 355.4,279.0 355.8,276.5 356.1,275.5 356.5,277.0 356.9,277.4 357.3,275.2 357.7,274.6 358.1,274.1 358.5,272.4 358.9,273.1 359.3,272.3 359.7,274.6 360.1,272.7 360.5,271.9 360.9,274.4 361.3,274.5 361.7,272.5 362.1,272.2 362.5,275.3 362.9,273.8 363.3,275.9 363.7,274.3 364.1,275.1 364.5,277.0 364.9,277.6 365.3,276.2 365.7,277.6 366.1,277.3 366.5,279.1 366.9,279.8 367.3,278.1 367.7,279.6 368.1,280.7 368.4,281.0 368.8,280.8 369.2,281.2 369.6,280.9 370.0,282.9 370.4,281.8 370.8,282.6 371.2,282.3 371.6,282.7 372.0,282.8 372.4,282.8 372.8,282.7 373.2,283.9 373.6,284.5 374.0,284.0 374.4,283.8 374.8,285.2 375.2,285.2 375.6,286.3 376.0,284.3 376.4,283.5 376.8,285.7 377.2,286.4 377.6,286.4 378.0,285.7 378.4,286.2 378.8,283.9 379.2,287.0 379.6,286.2 379.9,286.9 380.3,285.1 380.7,284.7 381.1,286.7 381.5,287.1 381.9,285.8 382.3,285.3 382.7,284.2 383.1,287.1 383.5,286.7 383.9,286.4 384.3,286.1 384.7,285.8 385.1,284.0 385.5,284.1 385.9,285.1 386.3,284.9 386.7,284.1 387.1,284.1 387.5,281.6 387.9,282.6 388.3,281.3 388.7,279.9 389.1,280.5 389.5,280.7 389.9,278.1 390.3,277.6 390.7,279.1 391.1,278.1 391.5,276.5 391.9,277.9 392.2,278.7 392.6,282.4 393.0,279.5 393.4,280.2 393.8,282.0 394.2,281.9 394.6,282.4 395.0,283.8 395.4,281.9 395.8,283.7 396.2,285.7 396.6,287.1 397.0,286.2 397.4,287.1 397.8,286.2 398.2,287.0 398.6,287.9 399.0,289.9 399.4,290.3 399.8,290.1 400.2,290.6 400.6,288.8 401.0,290.2 401.4,290.0 401.8,289.0 402.2,291.6 402.6,290.9 403.0,292.3 403.4,290.3 403.8,292.8 404.1,290.3 404.5,290.4 404.9,290.5 405.3,291.5 405.7,291.3 406.1,290.8 406.5,291.6 406.9,291.2 407.3,291.3 407.7,290.8 408.1,291.3 408.5,291.0 408.9,291.7 409.3,291.2 409.7,291.7 410.1,291.1 410.5,292.2 410.9,291.3 411.3,292.1 411.7,291.8 412.1,291.8 412.5,292.3 412.9,291.6 413.3,292.2 413.7,292.3 414.1,292.6 414.5,292.4 414.9,292.2 415.3,292.0 415.6,292.5 416.0,292.1 416.4,292.9 416.8,292.6 417.2,292.5 417.6,292.0 418.0,292.2 418.4,292.5 418.8,293.3 419.2,292.9 419.6,292.5 420.0,293.1 420.4,292.8 420.8,293.0 421.2,293.6 421.6,292.4 422.0,292.7 422.4,293.5 422.8,293.0 423.2,293.5 423.6,293.4 424.0,293.2 424.4,293.6 424.8,293.6 425.2,293.6 425.6,293.3 426.0,293.8 426.4,293.9 426.8,293.3 427.2,293.9 427.6,293.2 427.9,293.7 428.3,293.5 428.7,294.0 429.1,293.5 429.5,294.4 429.9,294.4 430.3,294.5 430.7,293.8 431.1,293.9 431.5,294.5 431.9,294.3 432.3,293.8 432.7,294.2 433.1,294.8 433.5,294.7 433.5,295.6" fill="#fff" stroke="#000" stroke-width="1.6" stroke-linejoin="round" />
<polygon points="314.5,284.6 314.5,284.5 314.9,283.4 315.3,278.4 315.7,273.4 316.1,271.1 316.5,272.8 316.9,271.4 317.3,272.9 317.7,274.5 318.1,276.3 318.5,277.4 318.9,276.8 319.3,277.9 319.7,278.5 320.1,278.9 320.4,279.0 320.8,281.5 321.2,281.7 321.6,279.6 322.0,280.2 322.4,280.7 322.8,283.9 323.2,284.1 323.6,283.6 324.0,283.3 324.4,282.9 324.8,284.9 325.2,283.6 325.6,285.3 326.0,285.5 326.0,285.7" fill="#333" stroke="#000" stroke-width="1.4" stroke-linejoin="round" />
<polygon points="348.6,287.8 348.6,285.5 349.0,285.3 349.4,284.8 349.8,282.7 350.2,282.6 350.6,284.5 351.0,283.7 351.4,283.4 351.8,283.0 352.2,282.4 352.6,282.0 353.0,282.2 353.4,280.4 353.8,279.1 354.2,279.5 354.6,277.9 355.0,278.3 355.4,279.0 355.8,276.5 356.1,275.5 356.5,277.0 356.9,277.4 357.3,275.2 357.7,274.6 358.1,274.1 358.5,272.4 358.9,273.1 359.3,272.3 359.7,274.6 360.1,272.7 360.5,271.9 360.9,274.4 361.3,274.5 361.7,272.5 362.1,272.2 362.5,275.3 362.9,273.8 363.3,275.9 363.7,274.3 364.1,275.1 364.5,277.0 364.9,277.6 365.3,276.2 365.7,277.6 366.1,277.3 366.5,279.1 366.9,279.8 367.3,278.1 367.7,279.6 368.1,280.7 368.4,281.0 368.8,280.8 369.2,281.2 369.6,280.9 370.0,282.9 370.4,281.8 370.8,282.6 371.2,282.3 371.6,282.7 372.0,282.8 372.0,289.9" fill="#3a3a3a" stroke="#000" stroke-width="1.6" stroke-linejoin="round" />
<polygon points="384.3,291.1 384.3,286.1 384.7,285.8 385.1,284.0 385.5,284.1 385.9,285.1 386.3,284.9 386.7,284.1 387.1,284.1 387.5,281.6 387.9,282.6 388.3,281.3 388.7,279.9 389.1,280.5 389.5,280.7 389.9,278.1 390.3,277.6 390.7,279.1 391.1,278.1 391.5,276.5 391.9,277.9 392.2,278.7 392.6,282.4 393.0,279.5 393.4,280.2 393.8,282.0 394.2,281.9 394.6,282.4 395.0,283.8 395.4,281.9 395.8,283.7 396.2,285.7 396.6,287.1 397.0,286.2 397.4,287.1 397.8,286.2 398.2,287.0 398.6,287.9 399.0,289.9 399.4,290.3 399.8,290.1 400.2,290.6 400.6,288.8 400.6,292.6" fill="#333" stroke="#000" stroke-width="1.6" stroke-linejoin="round" />
<polygon points="293.0,291.4 293.0,291.4 293.4,291.3 293.8,291.1 294.2,290.7 294.6,290.1 295.0,290.5 295.4,289.7 295.8,287.7 296.2,287.6 296.6,283.2 297.0,285.4 297.4,285.6 297.8,285.5 298.2,285.5 298.6,285.7 298.9,287.6 299.3,288.1 299.7,288.1 300.1,289.8 300.5,288.8 300.9,288.0 301.3,287.3 301.7,288.2 302.1,288.9 302.5,289.2 302.9,291.4 303.3,290.6 303.7,290.7 304.1,289.8 304.5,291.8 304.9,291.1 305.3,290.8 305.7,290.0 306.1,290.0 306.5,290.5 306.9,291.1 307.3,290.5 307.7,290.4 308.1,291.0 308.5,291.3 308.9,291.2 309.3,291.7 309.7,291.1 310.1,290.9 310.5,291.5 310.9,291.4 311.2,291.3 311.6,292.1 312.0,291.3 312.4,291.7 312.8,292.3 313.2,292.5 313.6,292.4 314.0,292.0 314.4,291.9 314.8,292.4 315.2,291.8 315.6,292.5 316.0,292.4 316.4,292.9 316.8,291.9 317.2,292.9 317.6,292.1 318.0,292.5 318.4,292.5 318.8,292.6 319.2,293.0 319.6,292.2 320.0,292.2 320.4,292.4 320.8,292.7 321.2,293.3 321.6,292.5 322.0,293.2 322.4,292.4 322.8,293.3 323.1,292.9 323.5,292.6 323.9,293.4 324.3,293.0 324.7,293.6 325.1,293.6 325.5,293.5 325.9,292.5 326.3,292.6 326.7,293.0 327.1,293.4 327.5,293.0 327.9,292.9 328.3,293.3 328.7,293.1 329.1,292.8 329.5,293.7 329.9,292.2 330.3,288.5 330.7,286.7 331.1,283.1 331.5,279.6 331.9,278.0 332.3,273.9 332.7,271.6 333.1,267.3 333.5,264.3 333.9,258.9 334.3,256.0 334.6,248.8 335.0,245.9 335.4,239.5 335.8,243.6 336.2,248.5 336.6,253.8 337.0,258.1 337.4,262.4 337.8,266.1 338.2,269.5 338.6,273.6 339.0,274.9 339.4,278.4 339.8,281.2 340.2,285.7 340.6,288.5 341.0,290.9 341.4,292.6 341.8,294.2 342.2,294.3 342.6,294.7 343.0,293.1 343.4,295.1 343.8,296.1 344.2,293.9 344.6,293.3 345.0,293.9 345.4,294.4 345.8,293.9 346.2,295.5 346.6,294.5 346.9,296.3 347.3,296.2 347.7,295.1 348.1,295.0 348.5,295.4 348.9,296.6 349.3,294.4 349.7,295.1 350.1,296.1 350.5,295.9 350.9,295.6 351.3,296.2 351.7,296.8 352.1,294.0 352.5,293.8 352.9,294.9 353.3,294.2 353.7,295.8 354.1,294.5 354.5,296.5 354.9,294.8 355.3,295.4 355.7,294.3 356.1,297.1 356.5,294.8 356.9,297.1 357.3,295.7 357.7,294.3 358.1,297.4 358.4,296.8 358.8,296.6 359.2,296.6 359.6,297.5 360.0,294.7 360.4,294.9 360.8,296.4 361.2,296.5 361.6,295.7 362.0,297.4 362.4,297.4 362.8,294.3 363.2,296.2 363.6,295.4 364.0,293.7 364.4,293.2 364.8,294.6 365.2,295.1 365.6,294.3 366.0,291.7 366.4,291.2 366.8,292.9 367.2,290.0 367.6,290.9 368.0,289.8 368.4,290.0 368.8,286.8 369.2,285.7 369.6,287.7 370.0,285.5 370.4,286.5 370.7,283.6 371.1,286.1 371.5,285.7 371.9,283.4 372.3,285.4 372.7,283.6 373.1,284.0 373.5,285.0 373.9,287.5 374.3,286.3 374.7,286.2 375.1,288.7 375.5,290.8 375.9,291.1 376.3,291.7 376.7,291.2 377.1,293.8 377.5,294.6 377.9,295.1 378.3,294.4 378.7,294.5 379.1,296.5 379.5,296.0 379.9,295.7 380.3,297.0 380.7,298.6 381.1,298.6 381.5,297.0 381.9,297.6 382.2,298.2 382.6,297.9 383.0,298.7 383.4,297.7 383.8,298.4 384.2,298.4 384.6,298.5 385.0,299.1 385.4,298.5 385.8,298.9 386.2,299.0 386.6,298.4 387.0,299.3 387.4,299.1 387.8,298.6 388.2,299.3 388.6,299.3 389.0,299.0 389.4,299.5 389.8,298.7 390.2,298.6 390.6,299.8 391.0,299.3 391.4,299.0 391.8,299.5 392.2,298.9 392.6,299.4 393.0,299.9 393.4,299.5 393.8,299.4 394.1,299.8 394.5,299.5 394.9,299.4 395.3,299.7 395.7,299.8 396.1,299.4 396.5,299.6 396.9,299.9 397.3,299.4 397.7,300.4 398.1,299.7 398.5,300.5 398.9,300.0 399.3,300.5 399.7,300.3 400.1,299.9 400.5,299.9 400.9,300.0 401.3,300.7 401.7,300.4 402.1,300.8 402.5,300.4 402.9,300.5 403.3,301.1 403.7,300.5 404.1,300.4 404.5,300.6 404.9,300.3 405.3,301.2 405.7,301.2 406.1,301.4 406.4,300.9 406.8,301.0 407.2,301.1 407.6,301.3 408.0,300.7 408.4,301.6 408.8,300.7 409.2,301.1 409.6,301.2 410.0,300.9 410.4,301.6 410.8,301.8 411.2,301.6 411.6,302.0 412.0,301.7 412.0,302.4" fill="#fff" stroke="#000" stroke-width="1.6" stroke-linejoin="round" />
<polygon points="293.0,291.4 293.0,291.4 293.4,291.3 293.8,291.1 294.2,290.7 294.6,290.1 295.0,290.5 295.4,289.7 295.8,287.7 296.2,287.6 296.6,283.2 297.0,285.4 297.4,285.6 297.8,285.5 298.2,285.5 298.6,285.7 298.9,287.6 299.3,288.1 299.7,288.1 300.1,289.8 300.5,288.8 300.9,288.0 301.3,287.3 301.7,288.2 302.1,288.9 302.5,289.2 302.9,291.4 303.3,290.6 303.7,290.7 304.1,289.8 304.5,291.8 304.9,291.1 305.3,290.8 305.7,290.0 306.1,290.0 306.5,290.5 306.9,291.1 307.3,290.5 307.7,290.4 308.1,291.0 308.5,291.3 308.9,291.2 309.3,291.7 309.7,291.1 310.1,290.9 310.5,291.5 310.9,291.4 311.2,291.3 311.2,293.1" fill="#333" stroke="#000" stroke-width="1.4" stroke-linejoin="round" />
<polygon points="329.5,294.8 329.5,293.7 329.9,292.2 330.3,288.5 330.7,286.7 331.1,283.1 331.5,279.6 331.9,278.0 332.3,273.9 332.7,271.6 333.1,267.3 333.5,264.3 333.9,258.9 334.3,256.0 334.6,248.8 335.0,245.9 335.4,239.5 335.8,243.6 336.2,248.5 336.6,253.8 337.0,258.1 337.4,262.4 337.8,266.1 338.2,269.5 338.6,273.6 339.0,274.9 339.4,278.4 339.8,281.2 340.2,285.7 340.6,288.5 341.0,290.9 341.4,292.6 341.4,295.9" fill="#3c3c3c" stroke="#000" stroke-width="1.6" stroke-linejoin="round" />
<polygon points="364.0,298.0 364.0,293.7 364.4,293.2 364.8,294.6 365.2,295.1 365.6,294.3 366.0,291.7 366.4,291.2 366.8,292.9 367.2,290.0 367.6,290.9 368.0,289.8 368.4,290.0 368.8,286.8 369.2,285.7 369.6,287.7 370.0,285.5 370.4,286.5 370.7,283.6 371.1,286.1 371.5,285.7 371.9,283.4 372.3,285.4 372.7,283.6 373.1,284.0 373.5,285.0 373.9,287.5 374.3,286.3 374.7,286.2 375.1,288.7 375.5,290.8 375.9,291.1 376.3,291.7 376.7,291.2 377.1,293.8 377.5,294.6 377.9,295.1 378.3,294.4 378.7,294.5 379.1,296.5 379.5,296.0 379.9,295.7 380.3,297.0 380.3,299.5" fill="#303030" stroke="#000" stroke-width="1.6" stroke-linejoin="round" />
<text x="481.3" y="287.8" font-size="8.8" stroke="#000" stroke-width="0.35">24h</text>
<text x="461.6" y="295" font-size="8.8" stroke="#000" stroke-width="0.35">18h</text>
<text x="437.7" y="303.2" font-size="8.8" stroke="#000" stroke-width="0.35">12h</text>
<text x="416.6" y="310.3" font-size="8.8" stroke="#000" stroke-width="0.35">6h</text>
<line x1="310.20" y1="338.80" x2="310.20" y2="451.95" stroke="#000" stroke-width="1.6"/>
<line x1="309.45" y1="451.20" x2="441.40" y2="451.20" stroke="#000" stroke-width="1.6"/>
<line x1="307.70" y1="451.20" x2="310.20" y2="451.20" stroke="#000" stroke-width="1.2"/>
<text x="306.40" y="454.10" font-size="7.2" text-anchor="end" stroke="#000" stroke-width="0.35" >0</text>
<line x1="307.70" y1="432.47" x2="310.20" y2="432.47" stroke="#000" stroke-width="1.2"/>
<text x="306.40" y="435.37" font-size="7.2" text-anchor="end" stroke="#000" stroke-width="0.35" >20</text>
<line x1="307.70" y1="413.73" x2="310.20" y2="413.73" stroke="#000" stroke-width="1.2"/>
<text x="306.40" y="416.63" font-size="7.2" text-anchor="end" stroke="#000" stroke-width="0.35" >40</text>
<line x1="307.70" y1="395.00" x2="310.20" y2="395.00" stroke="#000" stroke-width="1.2"/>
<text x="306.40" y="397.90" font-size="7.2" text-anchor="end" stroke="#000" stroke-width="0.35" >60</text>
<line x1="307.70" y1="376.27" x2="310.20" y2="376.27" stroke="#000" stroke-width="1.2"/>
<text x="306.40" y="379.17" font-size="7.2" text-anchor="end" stroke="#000" stroke-width="0.35" >80</text>
<line x1="307.70" y1="357.53" x2="310.20" y2="357.53" stroke="#000" stroke-width="1.2"/>
<text x="306.40" y="360.43" font-size="7.2" text-anchor="end" stroke="#000" stroke-width="0.35" >100</text>
<line x1="307.70" y1="338.80" x2="310.20" y2="338.80" stroke="#000" stroke-width="1.2"/>
<text x="306.40" y="341.70" font-size="7.2" text-anchor="end" stroke="#000" stroke-width="0.35" >120</text>
<rect x="323.90" y="438.17" width="13" height="13.03" fill="#000"/>
<rect x="323.90" y="385.76" width="13" height="52.41" fill="#b4b4b4"/>
<rect x="323.90" y="379.32" width="13" height="6.43" fill="#4a4a4a"/>
<rect x="323.90" y="357.30" width="13" height="22.02" fill="#dcdcdc"/>
<line x1="323.90" y1="438.17" x2="336.90" y2="438.17" stroke="#000" stroke-width="1.0"/>
<line x1="323.90" y1="385.76" x2="336.90" y2="385.76" stroke="#000" stroke-width="1.0"/>
<line x1="323.90" y1="379.32" x2="336.90" y2="379.32" stroke="#000" stroke-width="1.0"/>
<rect x="324.50" y="357.90" width="11.8" height="93.30" fill="none" stroke="#000" stroke-width="1.2"/>
<rect x="346.20" y="435.65" width="13" height="15.55" fill="#000"/>
<rect x="346.20" y="386.23" width="13" height="49.42" fill="#b4b4b4"/>
<rect x="346.20" y="379.32" width="13" height="6.90" fill="#4a4a4a"/>
<rect x="346.20" y="357.30" width="13" height="22.02" fill="#dcdcdc"/>
<line x1="346.20" y1="435.65" x2="359.20" y2="435.65" stroke="#000" stroke-width="1.0"/>
<line x1="346.20" y1="386.23" x2="359.20" y2="386.23" stroke="#000" stroke-width="1.0"/>
<line x1="346.20" y1="379.32" x2="359.20" y2="379.32" stroke="#000" stroke-width="1.0"/>
<rect x="346.80" y="357.90" width="11.8" height="93.30" fill="none" stroke="#000" stroke-width="1.2"/>
<rect x="369.20" y="433.97" width="13" height="17.23" fill="#000"/>
<rect x="369.20" y="406.65" width="13" height="27.32" fill="#b4b4b4"/>
<rect x="369.20" y="388.84" width="13" height="17.81" fill="#4a4a4a"/>
<rect x="369.20" y="357.30" width="13" height="31.54" fill="#dcdcdc"/>
<line x1="369.20" y1="433.97" x2="382.20" y2="433.97" stroke="#000" stroke-width="1.0"/>
<line x1="369.20" y1="406.65" x2="382.20" y2="406.65" stroke="#000" stroke-width="1.0"/>
<line x1="369.20" y1="388.84" x2="382.20" y2="388.84" stroke="#000" stroke-width="1.0"/>
<rect x="369.80" y="357.90" width="11.8" height="93.30" fill="none" stroke="#000" stroke-width="1.2"/>
<rect x="391.70" y="428.47" width="13" height="22.73" fill="#000"/>
<rect x="391.70" y="411.22" width="13" height="17.25" fill="#b4b4b4"/>
<rect x="391.70" y="400.31" width="13" height="10.91" fill="#4a4a4a"/>
<rect x="391.70" y="357.30" width="13" height="43.01" fill="#dcdcdc"/>
<line x1="391.70" y1="428.47" x2="404.70" y2="428.47" stroke="#000" stroke-width="1.0"/>
<line x1="391.70" y1="411.22" x2="404.70" y2="411.22" stroke="#000" stroke-width="1.0"/>
<line x1="391.70" y1="400.31" x2="404.70" y2="400.31" stroke="#000" stroke-width="1.0"/>
<rect x="392.30" y="357.90" width="11.8" height="93.30" fill="none" stroke="#000" stroke-width="1.2"/>
<rect x="414.80" y="410.75" width="13" height="40.45" fill="#000"/>
<rect x="414.80" y="389.30" width="13" height="21.45" fill="#b4b4b4"/>
<rect x="414.80" y="381.56" width="13" height="7.74" fill="#4a4a4a"/>
<rect x="414.80" y="357.30" width="13" height="24.26" fill="#dcdcdc"/>
<line x1="414.80" y1="410.75" x2="427.80" y2="410.75" stroke="#000" stroke-width="1.0"/>
<line x1="414.80" y1="389.30" x2="427.80" y2="389.30" stroke="#000" stroke-width="1.0"/>
<line x1="414.80" y1="381.56" x2="427.80" y2="381.56" stroke="#000" stroke-width="1.0"/>
<rect x="415.40" y="357.90" width="11.8" height="93.30" fill="none" stroke="#000" stroke-width="1.2"/>
<text x="331.70" y="461.00" font-size="7.0" text-anchor="middle" stroke="#000" stroke-width="0.35" >0</text>
<text x="352.80" y="461.00" font-size="7.0" text-anchor="middle" stroke="#000" stroke-width="0.35" >6</text>
<text x="376.40" y="461.00" font-size="7.0" text-anchor="middle" stroke="#000" stroke-width="0.35" >12</text>
<text x="399.50" y="461.00" font-size="7.0" text-anchor="middle" stroke="#000" stroke-width="0.35" >18</text>
<text x="422.60" y="461.00" font-size="7.0" text-anchor="middle" stroke="#000" stroke-width="0.35" >24</text>
<text x="435.60" y="461.00" font-size="7.0" text-anchor="middle" stroke="#000" stroke-width="0.35" >(h)</text>
<text x="0.00" y="0.00" font-size="8.0" text-anchor="middle" stroke="#000" stroke-width="0.35" transform="translate(291.3,392.2) rotate(-90)">Cells (%)</text>
<rect x="324" y="324.9" width="37" height="27" fill="#fff" stroke="#000" stroke-width="1.3"/>
<rect x="327.5" y="328.8" width="11" height="2.4" fill="#a8a8a8" stroke="#333" stroke-width="0.6"/>
<text x="340.60" y="332.10" font-size="6.1" text-anchor="start" stroke="#000" stroke-width="0.35" >subG1</text>
<rect x="327.5" y="334.3" width="11" height="2.4" fill="#c8c8c8" stroke="#333" stroke-width="0.6"/>
<text x="340.60" y="337.60" font-size="6.1" text-anchor="start" stroke="#000" stroke-width="0.35" >G0/G1</text>
<rect x="327.5" y="339.40000000000003" width="11" height="2.4" fill="#444" stroke="#333" stroke-width="0.6"/>
<text x="340.60" y="342.70" font-size="6.1" text-anchor="start" stroke="#000" stroke-width="0.35" >S</text>
<rect x="327.5" y="345.2" width="11" height="2.4" fill="#eee" stroke="#333" stroke-width="0.6"/>
<text x="340.60" y="348.50" font-size="6.1" text-anchor="start" stroke="#000" stroke-width="0.35" >G2/M</text>
<rect x="0.5" y="0.5" width="519" height="474" fill="none" stroke="#000" stroke-width="1"/>
</svg>
</body></html>
